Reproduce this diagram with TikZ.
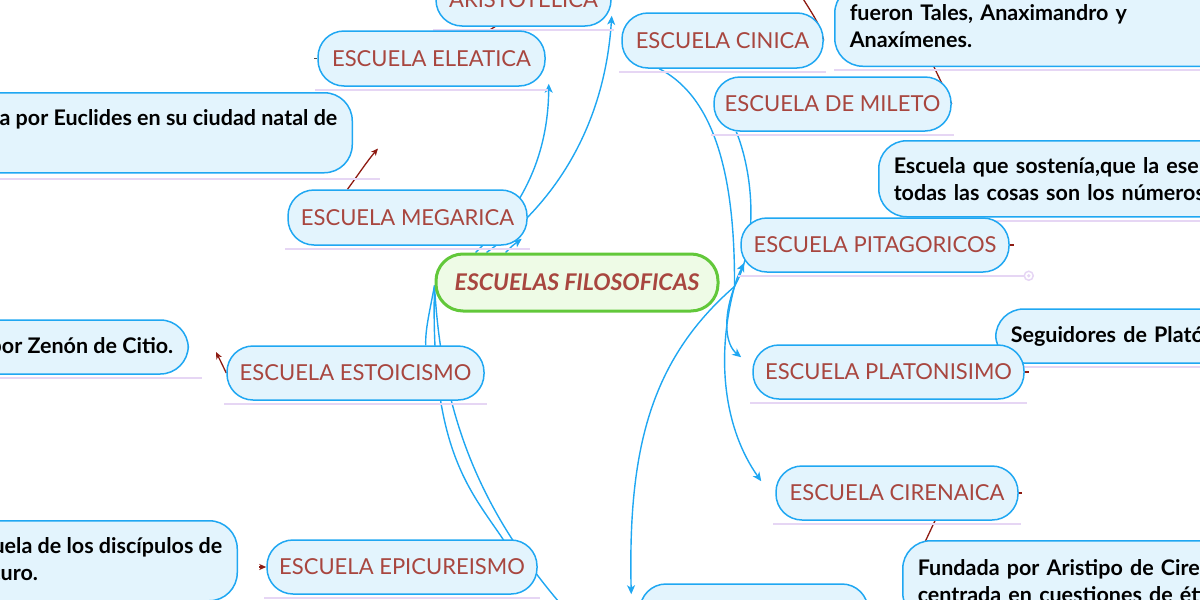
\documentclass[tikz,border=0pt]{standalone}
\usepackage{fontspec}
\setmainfont{Lato}
\usetikzlibrary{arrows.meta,backgrounds}
\definecolor{nblue}{HTML}{1FA7F2}
\definecolor{nfill}{HTML}{E3F4FD}
\definecolor{tred}{HTML}{A8463F}
\definecolor{cgreen}{HTML}{62C83A}
\definecolor{cfill}{HTML}{EEFBE6}
\definecolor{rline}{HTML}{8E1B12}
\definecolor{ulc}{HTML}{E6D6F4}
\begin{document}
\begin{tikzpicture}[x=1pt,y=-1pt,
  tnode/.style={draw=nblue, line width=1.5pt, fill=nfill, rounded corners=26pt,
    minimum height=55pt, text=tred, font=\fontsize{22}{27}\selectfont,
    align=center, inner sep=0pt},
  dnode/.style={draw=nblue, line width=1.5pt, fill=nfill, rounded corners=28pt,
    text=black, font=\bfseries\fontsize{21.5}{27}\selectfont, align=left,
    inner xsep=15pt, inner ysep=0pt},
  cnode/.style={draw=cgreen, line width=3pt, fill=cfill, rounded corners=27pt,
    minimum width=282pt, minimum height=57pt, text=tred,
    font=\bfseries\itshape\fontsize{23}{27}\selectfont, inner sep=0pt},
  bconn/.style={draw=nblue, line width=1.4pt},
  rconn/.style={draw=rline, line width=1.3pt},
  arrowend/.style={-{Stealth[length=9pt,width=8pt,inset=2.5pt]}},
  smallend/.style={-{Stealth[length=7pt,width=6pt,inset=2pt]}},
  uline/.style={draw=ulc, line width=2pt},
]
\useasboundingbox (0,0) rectangle (1200,600);

% description boxes
\node[dnode, anchor=north east, minimum height=80pt] (dmeg) at (353,92)
  {Escuela fundada por Euclides en su ciudad natal de\\Megara.};
\node[dnode, anchor=east, minimum height=54pt] (dest) at (189,347)
  {Fundada por Zenón de Citio.};
\node[dnode, anchor=north east, minimum height=80pt] (depi) at (238,520)
  {Escuela de los discípulos de\\Epicuro.};
\node[dnode, anchor=south west, minimum height=81pt, text width=400pt] (dmil) at (834,67)
  {fueron Tales, Anaximandro y\\Anaxímenes.};
\node[dnode, anchor=north west, minimum height=76pt, text width=400pt] (dpit) at (878,140)
  {Escuela que sostenía,que la esencia de\\todas las cosas son los números.};
\node[dnode, anchor=west, minimum height=54pt, text width=300pt] (dpla) at (995,336)
  {Seguidores de Platón.};
\node[dnode, anchor=north west, minimum height=80pt, text width=400pt] (dcir) at (902,540)
  {Fundada por Aristipo de Cirene,\\centrada en cuestiones de ética.};

% topic nodes
\node[tnode, minimum width=175pt, minimum height=80pt] (arist) at (523.5,-14) {ESCUELA\\ARISTOTELICA};
\node[tnode, minimum width=227pt] (elea) at (431.5,58.5) {ESCUELA ELEATICA};
\node[tnode, minimum width=239pt] (meg) at (407.5,217.5) {ESCUELA MEGARICA};
\node[tnode, minimum width=257pt, minimum height=54pt] (est) at (355.5,373) {ESCUELA ESTOICISMO};
\node[tnode, minimum width=270pt, minimum height=54pt] (epi) at (402,567) {ESCUELA EPICUREISMO};
\node[tnode, minimum width=201pt] (cin) at (722.5,40.5) {ESCUELA CINICA};
\node[tnode, minimum width=237pt, minimum height=54pt] (mil) at (832.5,104) {ESCUELA DE MILETO};
\node[tnode, minimum width=268pt, minimum height=54pt] (pit) at (875,245) {ESCUELA PITAGORICOS};
\node[tnode, minimum width=271pt, minimum height=54pt] (pla) at (888.5,372) {ESCUELA PLATONISIMO};
\node[tnode, minimum width=242pt, minimum height=54pt] (cir) at (897,493) {ESCUELA CIRENAICA};
\node[tnode, minimum width=228pt] (bot) at (754,611.5) {};
\node[cnode] (c) at (577,282.5) {ESCUELAS FILOSOFICAS};

\begin{scope}[on background layer]
  \coordinate (hR) at ([shift={(15,4)}]c.east);
  \coordinate (lowL) at (582,628);
  \coordinate (cinUp) at (800,-6);
  % blue connectors
  \draw[bconn,arrowend] ([shift={(41,0)}]c.north west) .. controls (510,220) and (548,170) .. ([shift={(3,-3)}]elea.south east);
  \draw[bconn,arrowend] ([shift={(52,0)}]c.north west) .. controls (560,200) and (605,120) .. ([shift={(0,-11)}]arist.south east);
  \draw[bconn,arrowend] ([shift={(71,0)}]c.north west) .. controls (512,246) .. ([shift={(-6,-7)}]meg.south east);
  \draw[bconn] ([shift={(0,3)}]c.west) .. controls (430,310) and (425,330) .. ([shift={(-59,0)}]est.north east);
  \draw[bconn] ([shift={(0,3)}]c.west) .. controls (430,450) and (470,490) .. ([shift={(-34,1)}]epi.north east);
  \draw[bconn] ([shift={(0,3)}]c.west) .. controls (442,420) and (482,520) .. (lowL);
  \draw[bconn] (hR) .. controls (735,190) and (720,100) .. ([shift={(38,0)}]cin.south west);
  \draw[bconn] (hR) .. controls (760,240) and (752,170) .. ([shift={(23,0)}]mil.south west);
  \draw[bconn,arrowend] (hR) .. controls (737,278) .. ([shift={(4,-10)}]pit.south west);
  \draw[bconn,arrowend] (hR) .. controls (722,320) and (726,345) .. ([shift={(-11,13)}]pla.north west);
  \draw[bconn,arrowend] (hR) .. controls (715,360) and (725,430) .. ([shift={(-14,16)}]cir.north west);
  \draw[bconn,arrowend] (hR) .. controls (650,360) and (628,450) .. ([shift={(-8,11)}]bot.north west);
  % red connectors
  \draw[rconn,smallend] ([shift={(-60,0)}]meg.north) .. controls (358,175) and (368,160) .. ([shift={(25,-25)}]dmeg.south east);
  \draw[rconn,smallend] (est.west) .. controls (221,362) .. ([shift={(27,5)}]dest.east);
  \draw[rconn,smallend] ([shift={(-7,0)}]epi.west) -- (epi.west);
  \draw[rconn] ([shift={(-35,4)}]arist.south) -- ([shift={(-27,-1)}]arist.south);
  \draw[rconn,draw=black!70] ([shift={(-3,0)}]elea.west) -- (elea.west);
  \draw[rconn] (cin.east) .. controls (819,24) .. (cinUp);
  \draw[rconn] (mil.east) .. controls (946,92) .. ([shift={(100,0)}]dmil.south west);
  \draw[rconn] (pit.east) -- ([shift={(4,0)}]pit.east);
  \draw[rconn] (pla.east) -- ([shift={(4,0)}]pla.east);
  \draw[rconn] (cir.east) -- ([shift={(3,0)}]cir.east);
  \draw[rconn] ([shift={(38,0)}]cir.south) -- ([shift={(23,2)}]dcir.north west);
  % underlines
  \foreach \n in {arist,elea,meg,est,epi,cin,mil,pla,cir}
    \draw[uline] ([shift={(-2,3)}]\n.south west) -- ([shift={(2,3)}]\n.south east);
  \draw[uline] ([shift={(-2,3)}]pit.south west) -- ([shift={(15,3)}]pit.south east);
  \draw[uline, line width=1.5pt] ([shift={(19,3)}]pit.south east) circle[radius=4.5];
  \fill[ulc] ([shift={(19,3)}]pit.south east) circle[radius=1.8];
  \draw[uline] ([shift={(0,5)}]dmeg.south west) -- ([shift={(27,5)}]dmeg.south east);
  \draw[uline] ([shift={(0,3)}]dest.south west) -- ([shift={(13,3)}]dest.south east);
  \draw[uline] ([shift={(0,3)}]dmil.south west) -- ([shift={(0,3)}]dmil.south east);
  \draw[uline] ([shift={(0,3)}]dpit.south west) -- ([shift={(0,3)}]dpit.south east);
  \draw[uline] ([shift={(0,3)}]dpla.south west) -- ([shift={(0,3)}]dpla.south east);
\end{scope}
\end{tikzpicture}
\end{document}
